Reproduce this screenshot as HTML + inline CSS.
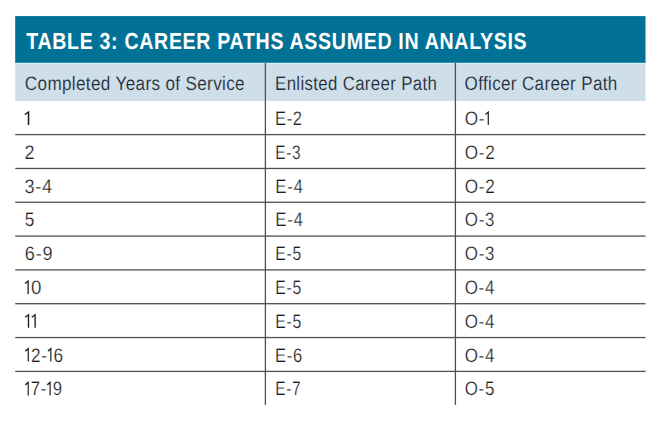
<!DOCTYPE html>
<html><head><meta charset="utf-8">
<style>
html,body{margin:0;padding:0;background:#fff;width:660px;height:421px;overflow:hidden;}
svg{position:absolute;left:0;top:0;}
text{font-family:"Liberation Sans",sans-serif;text-rendering:geometricPrecision;white-space:pre;}
.tt{font-weight:bold;fill:#fff;}
.hd{fill:#232d36;stroke:#cfdfe9;stroke-width:0.15px;}
.d{fill:#1c1c1c;stroke:#fff;stroke-width:0.25px;}
.tt{stroke:#017296;stroke-width:0.0px;}
</style></head><body>
<svg width="660" height="421" viewBox="0 0 660 421">
<rect x="15.2" y="16.1" width="630.3" height="46.699999999999996" fill="#017296"/>
<rect x="15.2" y="62.8" width="630.3" height="37.8" fill="#cfdfe9"/>
<rect x="15.2" y="61.8" width="630.3" height="1.0" fill="#05688a"/>
<rect x="15.2" y="62.8" width="630.3" height="1.2" fill="#cff2fa"/>
<rect x="15.2" y="99.0" width="630.3" height="1.6" fill="#c9dbe5"/>
<rect x="15.2" y="133.950" width="630.3" height="1.3" fill="#505050"/>
<rect x="15.2" y="167.800" width="630.3" height="1.3" fill="#505050"/>
<rect x="15.2" y="201.620" width="630.3" height="1.3" fill="#505050"/>
<rect x="15.2" y="235.450" width="630.3" height="1.3" fill="#505050"/>
<rect x="15.2" y="269.250" width="630.3" height="1.3" fill="#505050"/>
<rect x="15.2" y="303.050" width="630.3" height="1.3" fill="#505050"/>
<rect x="15.2" y="336.900" width="630.3" height="1.3" fill="#505050"/>
<rect x="15.2" y="370.750" width="630.3" height="1.3" fill="#505050"/>
<rect x="264.750" y="62.8" width="1.3" height="342.09999999999997" fill="#505050"/>
<rect x="454.750" y="62.8" width="1.3" height="342.09999999999997" fill="#505050"/>
<g transform="translate(26.192 48.700) scale(0.8448 1)"><text class="tt" font-size="23.2" letter-spacing="0.8">TABLE 3: CAREER PATHS ASSUMED IN ANALYSIS</text></g>
<g transform="translate(24.856 89.600) scale(0.8767 1)"><text class="hd" font-size="19.5" letter-spacing="0.4">Completed Years of Service</text></g>
<g transform="translate(275.077 89.600) scale(0.8622 1)"><text class="hd" font-size="19.5" letter-spacing="0.4">Enlisted Career Path</text></g>
<g transform="translate(464.517 89.600) scale(0.8742 1)"><text class="hd" font-size="19.5" letter-spacing="0.4">Officer Career Path</text></g>
<g transform="translate(24.479 125.000) scale(1.1540 1)"><path transform="translate(0.000 0)" d="M0.2 -10.5 L3.5 -13.0 V0" stroke="#1c1c1c" stroke-width="1.35" fill="none"/></g>
<g transform="translate(274.935 125.000) scale(0.8500 1)"><text class="d" x="0.000" font-size="19.5" letter-spacing="0.8">E-2</text></g>
<g transform="translate(464.696 125.000) scale(0.8812 1)"><text class="d" x="0.000" font-size="19.5" letter-spacing="0.8">O-</text><path transform="translate(23.261 0)" d="M0.2 -10.5 L3.5 -13.0 V0" stroke="#1c1c1c" stroke-width="1.35" fill="none"/></g>
<g transform="translate(24.433 158.800) scale(0.9248 1)"><text class="d" x="0.000" font-size="19.5" letter-spacing="0.8">2</text></g>
<g transform="translate(275.296 158.800) scale(0.7877 1)"><text class="d" x="0.000" font-size="19.5" letter-spacing="0.8">E-3</text></g>
<g transform="translate(464.718 158.800) scale(0.8787 1)"><text class="d" x="0.000" font-size="19.5" letter-spacing="0.8">O-2</text></g>
<g transform="translate(24.408 192.600) scale(0.9289 1)"><text class="d" x="0.000" font-size="19.5" letter-spacing="0.8">3-4</text></g>
<g transform="translate(275.242 192.600) scale(0.8629 1)"><text class="d" x="0.000" font-size="19.5" letter-spacing="0.8">E-4</text></g>
<g transform="translate(464.718 192.600) scale(0.8787 1)"><text class="d" x="0.000" font-size="19.5" letter-spacing="0.8">O-2</text></g>
<g transform="translate(24.843 226.400) scale(0.8868 1)"><text class="d" x="0.000" font-size="19.5" letter-spacing="0.8">5</text></g>
<g transform="translate(275.242 226.400) scale(0.8629 1)"><text class="d" x="0.000" font-size="19.5" letter-spacing="0.8">E-4</text></g>
<g transform="translate(464.773 226.400) scale(0.8682 1)"><text class="d" x="0.000" font-size="19.5" letter-spacing="0.8">O-3</text></g>
<g transform="translate(24.820 260.200) scale(0.9281 1)"><text class="d" x="0.000" font-size="19.5" letter-spacing="0.8">6-9</text></g>
<g transform="translate(275.329 260.200) scale(0.8079 1)"><text class="d" x="0.000" font-size="19.5" letter-spacing="0.8">E-5</text></g>
<g transform="translate(464.773 260.200) scale(0.8682 1)"><text class="d" x="0.000" font-size="19.5" letter-spacing="0.8">O-3</text></g>
<g transform="translate(24.784 294.000) scale(0.9608 1)"><path transform="translate(0.000 0)" d="M0.2 -10.5 L3.5 -13.0 V0" stroke="#1c1c1c" stroke-width="1.35" fill="none"/><text class="d" x="6.600" font-size="19.5" letter-spacing="0.8">0</text></g>
<g transform="translate(275.329 294.000) scale(0.8079 1)"><text class="d" x="0.000" font-size="19.5" letter-spacing="0.8">E-5</text></g>
<g transform="translate(464.629 294.000) scale(0.8712 1)"><text class="d" x="0.000" font-size="19.5" letter-spacing="0.8">O-4</text></g>
<g transform="translate(25.000 327.800) scale(1.0008 1)"><path transform="translate(0.000 0)" d="M0.2 -10.5 L3.5 -13.0 V0" stroke="#1c1c1c" stroke-width="1.35" fill="none"/><path transform="translate(6.600 0)" d="M0.2 -10.5 L3.5 -13.0 V0" stroke="#1c1c1c" stroke-width="1.35" fill="none"/></g>
<g transform="translate(275.329 327.800) scale(0.8079 1)"><text class="d" x="0.000" font-size="19.5" letter-spacing="0.8">E-5</text></g>
<g transform="translate(464.629 327.800) scale(0.8712 1)"><text class="d" x="0.000" font-size="19.5" letter-spacing="0.8">O-4</text></g>
<g transform="translate(25.196 361.600) scale(0.8841 1)"><path transform="translate(0.000 0)" d="M0.2 -10.5 L3.5 -13.0 V0" stroke="#1c1c1c" stroke-width="1.35" fill="none"/><text class="d" x="6.600" font-size="19.5" letter-spacing="0.8">2-</text><path transform="translate(25.539 0)" d="M0.2 -10.5 L3.5 -13.0 V0" stroke="#1c1c1c" stroke-width="1.35" fill="none"/><text class="d" x="32.139" font-size="19.5" letter-spacing="0.8">6</text></g>
<g transform="translate(275.058 361.600) scale(0.8515 1)"><text class="d" x="0.000" font-size="19.5" letter-spacing="0.8">E-6</text></g>
<g transform="translate(464.629 361.600) scale(0.8712 1)"><text class="d" x="0.000" font-size="19.5" letter-spacing="0.8">O-4</text></g>
<g transform="translate(25.210 395.400) scale(0.8568 1)"><path transform="translate(0.000 0)" d="M0.2 -10.5 L3.5 -13.0 V0" stroke="#1c1c1c" stroke-width="1.35" fill="none"/><text class="d" x="6.600" font-size="19.5" letter-spacing="0.8">7-</text><path transform="translate(25.539 0)" d="M0.2 -10.5 L3.5 -13.0 V0" stroke="#1c1c1c" stroke-width="1.35" fill="none"/><text class="d" x="32.139" font-size="19.5" letter-spacing="0.8">9</text></g>
<g transform="translate(275.340 395.400) scale(0.7923 1)"><text class="d" x="0.000" font-size="19.5" letter-spacing="0.8">E-7</text></g>
<g transform="translate(464.777 395.400) scale(0.8665 1)"><text class="d" x="0.000" font-size="19.5" letter-spacing="0.8">O-5</text></g>
</svg>
</body></html>
